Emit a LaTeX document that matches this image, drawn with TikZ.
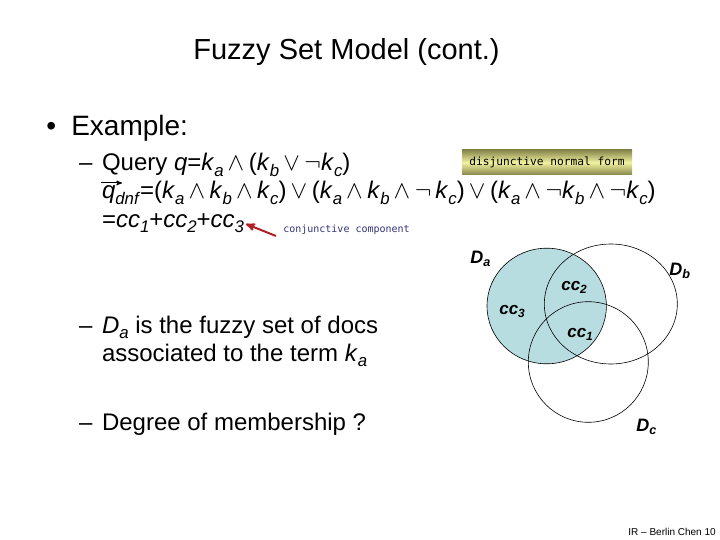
\documentclass[tikz,border=0pt]{standalone}
\usepackage{fontspec}
\setmainfont{Liberation Sans}
\newfontfamily\labelfont{DejaVu Sans Mono}
\usetikzlibrary{arrows,shapes.geometric}

\definecolor{setfill}{HTML}{B8DDE1}
\definecolor{tagdark}{HTML}{85854A}
\definecolor{taglight}{HTML}{F2F2A0}
\definecolor{compblue}{HTML}{333378}
\definecolor{arrowred}{HTML}{B02025}

\newcommand{\ti}[1]{\textit{#1}}
\newcommand{\tsub}[1]{\raisebox{-0.22em}{\scalebox{0.7}{\textit{#1}}}}
\newcommand{\AND}{\,$\wedge$\,\hspace{0.6pt}}
\newcommand{\OR}{\,$\vee$\,\hspace{0.6pt}}
\newcommand{\NOT}{$\neg$}

\begin{document}
\begin{tikzpicture}[x=1pt,y=-1pt,>=stealth',semithick]
  \tikzstyle{line}=[anchor=base west,inner sep=0pt,outer sep=0pt,font=\fontsize{24}{24}\selectfont]
  \tikzstyle{set}=[ellipse,draw=black,line width=0.6pt,inner sep=0pt,outer sep=0pt]
  \tikzstyle{setname}=[anchor=base west,inner sep=0pt,font=\fontsize{18}{18}\selectfont\bfseries\itshape]
  \tikzstyle{comp}=[anchor=base west,inner sep=0pt,font=\fontsize{17}{17}\selectfont\bfseries\itshape]

  \useasboundingbox (0,0) rectangle (720,540);

  \node[anchor=base,inner sep=0pt,font=\fontsize{29}{29}\selectfont] (title) at (346.5,60) {Fuzzy Set Model (cont.)};
  \node[anchor=base west,inner sep=0pt,font=\fontsize{28}{28}\selectfont] (bullet) at (46,136) {•};
  \node[anchor=base west,inner sep=0pt,font=\fontsize{28}{28}\selectfont] (example) at (71,136) {Example:};

  \node[line] (dash1) at (79,171) {–};
  \node[line] (query) at (102,171) {Query \ti{q}=\ti{k}\tsub{a}\AND(\ti{k}\tsub{b}\OR\NOT\ti{k}\tsub{c})};
  \node[line] (dnf) at (102,199) {\ti{q}\tsub{dnf}=(\ti{k}\tsub{a}\AND\ti{k}\tsub{b}\AND\ti{k}\tsub{c})\OR(\ti{k}\tsub{a}\AND\ti{k}\tsub{b}\AND\NOT\,\ti{k}\tsub{c})\OR(\ti{k}\tsub{a}\AND\NOT\ti{k}\tsub{b}\AND\NOT\ti{k}\tsub{c})};
  \node[line] (ccs) at (102,227) {=\ti{cc}\tsub{1}+\ti{cc}\tsub{2}+\ti{cc}\tsub{3}};

  \coordinate (vecstart) at (101,183);
  \coordinate (vecend) at (122,183);
  \draw[->,line width=1pt] (vecstart) -- (vecend);

  \node[anchor=center,minimum width=170pt,minimum height=25pt,inner sep=0pt,
        top color=tagdark,bottom color=tagdark,middle color=taglight,
        font=\fontsize{11.2}{11.2}\selectfont\labelfont] (dnftag) at (547,162.5) {disjunctive normal form};
  \node[anchor=base west,inner sep=0pt,text=compblue,
        font=\fontsize{10}{10}\selectfont\labelfont] (cctag) at (283,233) {conjunctive component};
  \coordinate (cctail) at (276,236);
  \coordinate (cchead) at (246,224);
  \draw[->,draw=arrowred,line width=2pt] (cctail) -- (cchead);

  \node[line] (dash2) at (79,333) {–};
  \node[line] (da1) at (102,333) {\ti{D}\tsub{a} is the fuzzy set of docs};
  \node[line] (da2) at (102,361) {associated to the term \ti{k}\tsub{a}};
  \node[line] (dash3) at (79,430) {–};
  \node[line] (degree) at (102,430) {Degree of membership ?};

  % the three sets
  \node[set,fill=setfill,minimum width=119.4pt,minimum height=115.6pt] (A) at (546.7,306) {};
  \node[set,minimum width=133pt,minimum height=120pt] (B) at (610.8,304) {};
  \node[set,minimum width=120pt,minimum height=120.6pt] (C) at (588.3,362) {};

  \node[setname] (Da) at (470,263) {D\tsub{a}};
  \node[setname] (Db) at (669,275) {D\tsub{b}};
  \node[setname] (Dc) at (636,431) {D\tsub{c}};
  \node[comp] (cc2) at (561,290) {cc\tsub{2}};
  \node[comp] (cc3) at (499,314) {cc\tsub{3}};
  \node[comp] (cc1) at (567,337) {cc\tsub{1}};

  \node[anchor=base east,inner sep=0pt,font=\fontsize{10}{10}\selectfont] (foot) at (716,535) {IR – Berlin Chen 10};
\end{tikzpicture}
\end{document}
